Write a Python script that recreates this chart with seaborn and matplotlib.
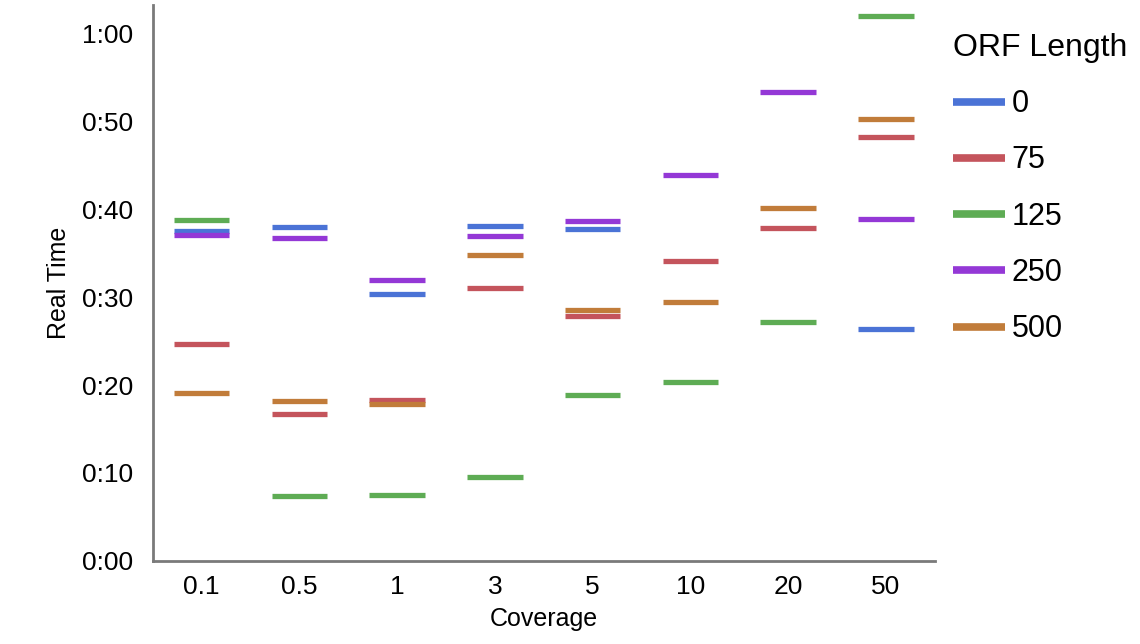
import matplotlib
matplotlib.use("Agg")
import matplotlib.pyplot as plt
from matplotlib.lines import Line2D
from matplotlib.ticker import FuncFormatter, MultipleLocator
import numpy as np
import pandas as pd
import seaborn as sns

coverage = ["0.1", "0.5", "1", "3", "5", "10", "20", "50"]
orf_lengths = ["0", "75", "125", "250", "500"]

# real time in seconds, one list per ORF length (NaN = no run)
time_0 = [37.5, 38.0, 30.3, 38.1, 37.8, np.nan, np.nan, 26.4]
time_75 = [24.7, 16.7, 18.3, 31.0, 27.9, 34.1, 37.9, 48.2]
time_125 = [38.8, 7.4, 7.5, 9.5, 18.9, 20.4, 27.2, 62.0]
time_250 = [37.1, 36.7, 31.9, 37.0, 38.6, 43.9, 53.3, 38.9]
time_500 = [19.1, 18.2, 17.8, 34.8, 28.5, 29.4, 40.1, 50.3]

colors = ["#4b73d6", "#c4545c", "#5eac54", "#9438d6", "#c17c3a"]

series = [time_0, time_75, time_125, time_250, time_500]
rows = []
for orf, values in zip(orf_lengths, series):
    for cov, v in zip(coverage, values):
        rows.append({"Coverage": cov, "ORF Length": orf, "Real Time": v})
df = pd.DataFrame(rows).dropna()

sns.set_style("white")
plt.rcParams["font.family"] = ["Liberation Sans", "DejaVu Sans"]
plt.rcParams["text.color"] = "black"
plt.rcParams["axes.labelcolor"] = "black"
plt.rcParams["xtick.color"] = "black"
plt.rcParams["ytick.color"] = "black"

fig = plt.figure(figsize=(11.4, 6.44), dpi=100)
ax = fig.add_axes([0.134, 0.129, 0.686, 0.863])

# register category order on the x axis
ax.plot(coverage, [np.nan] * len(coverage))
sns.scatterplot(data=df, x="Coverage", y="Real Time", hue="ORF Length",
                hue_order=orf_lengths, palette=colors, marker="_",
                s=1600, linewidth=3.8, legend=False, ax=ax)

ax.set_xlim(-0.5, len(coverage) - 0.5)
ax.set_ylim(0, 63.2)
ax.yaxis.set_major_locator(MultipleLocator(10))
ax.yaxis.set_major_formatter(FuncFormatter(lambda v, p: f"{int(v // 60)}:{int(round(v % 60)):02d}"))

sns.despine(ax=ax)
for side in ["left", "bottom"]:
    ax.spines[side].set_color("#7a7a7a")
    ax.spines[side].set_linewidth(2)
ax.tick_params(axis="y", length=10, width=2, color="#7a7a7a", labelcolor="black",
               labelsize=19, pad=4)
ax.tick_params(axis="x", length=0, labelcolor="black", labelsize=19, pad=10)
ax.set_xlabel("Coverage", fontsize=18, labelpad=6)
ax.set_ylabel("Real Time", fontsize=18, labelpad=8)

handles = [Line2D([], [], color=c, lw=5.5, solid_capstyle="butt") for c in colors]
leg = ax.legend(handles, orf_lengths, title="ORF Length", frameon=False,
                loc="upper left", bbox_to_anchor=(1.008, 0.972), fontsize=22,
                title_fontsize=23, handlelength=1.7, handletextpad=0.2,
                labelspacing=0.86, borderaxespad=0)
leg._legend_box.align = "left"

fig.savefig("out.png", dpi=100)
